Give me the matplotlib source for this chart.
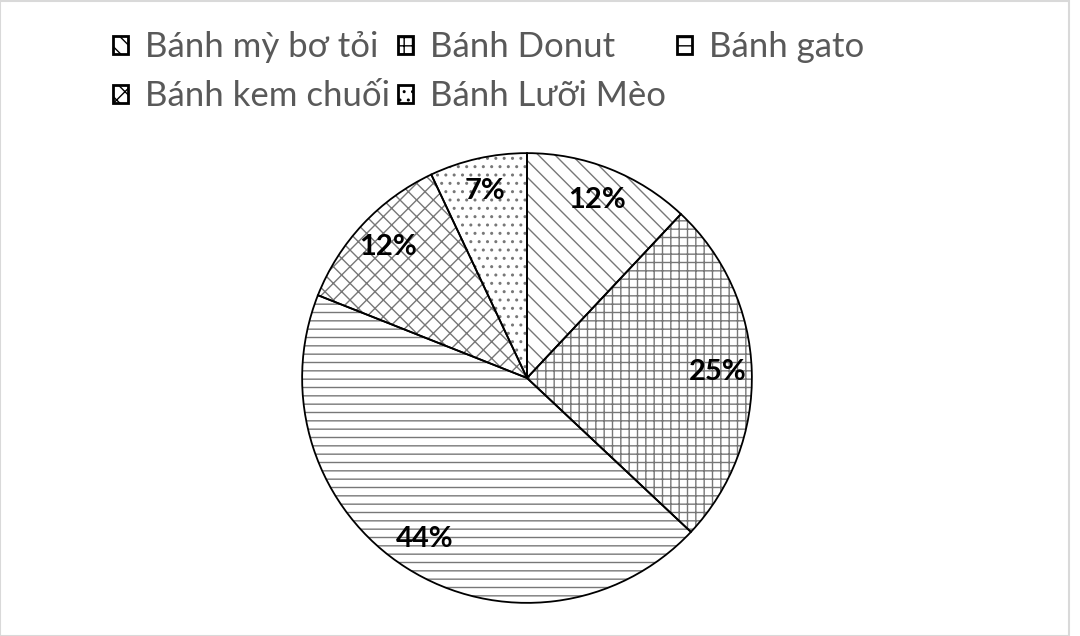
import matplotlib.pyplot as plt
from matplotlib.patches import Patch, Rectangle

plt.rcParams['font.family'] = ['Lato', 'DejaVu Sans']
plt.rcParams['hatch.linewidth'] = 1.0

# dữ liệu
labels = ['Bánh mỳ bơ tỏi', 'Bánh Donut', 'Bánh gato', 'Bánh kem chuối', 'Bánh Lưỡi Mèo']
values = [12, 25, 44, 12, 7]
hatches = ['\\\\', '++', '--', 'xx', '..']

W, H = 1080, 636
fig = plt.figure(figsize=(W / 100, H / 100), dpi=100)

# khung vien mo
fig.patches.append(Rectangle((0, 0), 1069 / W, 1 - 1 / H, transform=fig.transFigure,
                             fill=False, edgecolor='#d9d9d9', linewidth=1.5))

cx, cy, r = 527, 378, 226
ax = fig.add_axes([(cx - r) / W, (H - cy - r) / H, 2 * r / W, 2 * r / H])

# lop hatch mau xam
wedges, _ = ax.pie(values, startangle=90, counterclock=False,
                   wedgeprops=dict(facecolor='white', edgecolor='#777777', linewidth=0))
for w, h in zip(wedges, hatches):
    w.set_hatch(h)

# lop vien den + nhan phan tram
ax.pie(values, startangle=90, counterclock=False,
       autopct=lambda p: '%d%%' % round(p), pctdistance=0.85,
       wedgeprops=dict(fill=False, edgecolor='black', linewidth=1.3),
       textprops=dict(fontsize=21, fontweight='bold', color='black'))
ax.set_xlim(-1.005, 1.005)
ax.set_ylim(-1.005, 1.005)
ax.set_aspect('equal')
ax.axis('off')

# chu giai: 3 cot
handles = []
for h in hatches:
    handles.append(Patch(facecolor='white', edgecolor='black', hatch=h, linewidth=2))

cols = [[0, 3], [1, 4], [2]]
col_x = [113, 398, 677]
for idx, x in zip(cols, col_x):
    leg = fig.legend([handles[i] for i in idx], [labels[i] for i in idx],
                     loc='upper left', bbox_to_anchor=(x / W, 1 - 31 / H),
                     frameon=False, fontsize=25, borderpad=0, borderaxespad=0,
                     handlelength=0.43, handleheight=0.43, handletextpad=0.49,
                     labelspacing=0.49)
    for t in leg.get_texts():
        t.set_color('#595959')

fig.savefig('out.png', dpi=100, facecolor='white')
